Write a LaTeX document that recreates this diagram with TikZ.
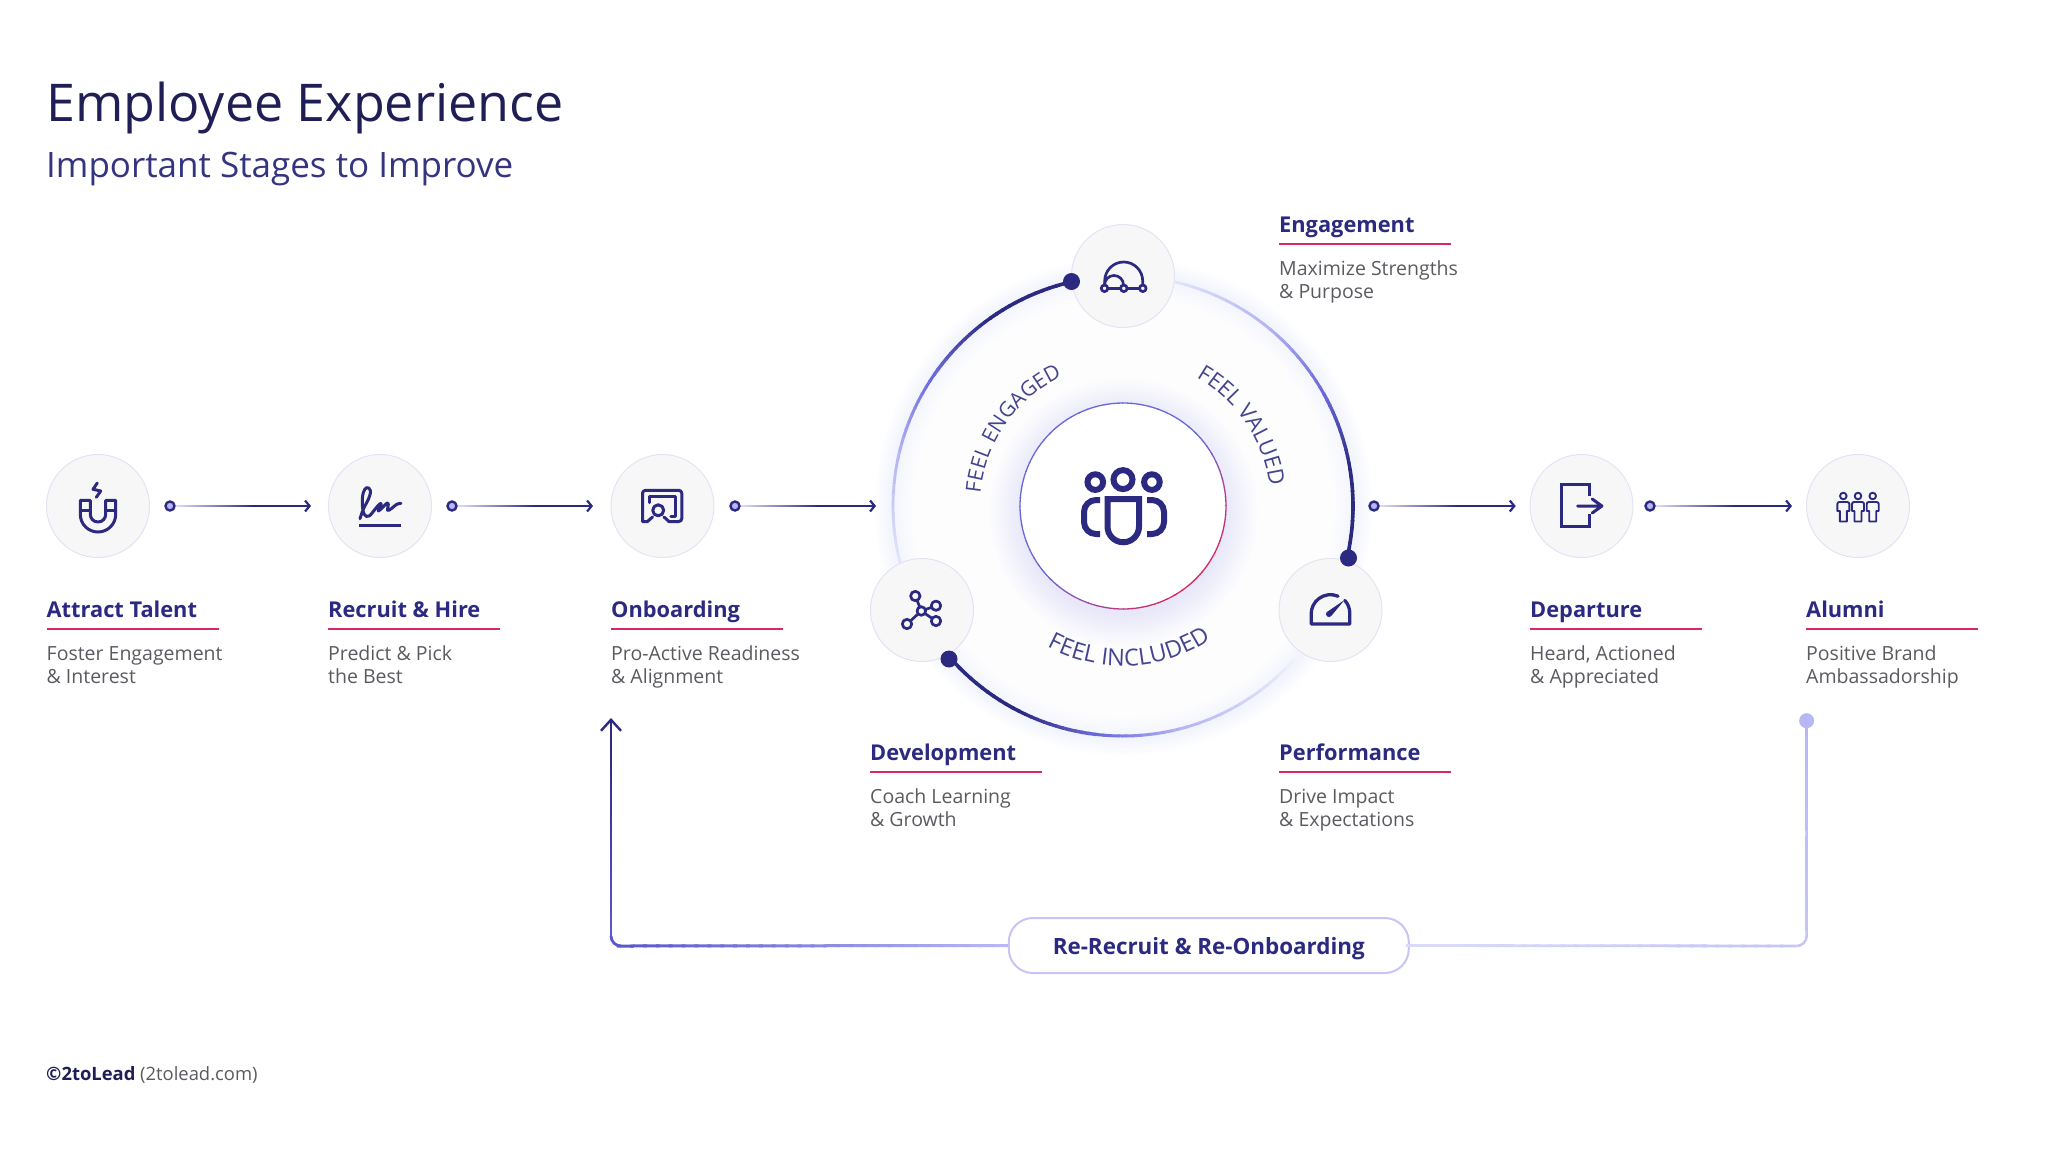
\documentclass[tikz,border=0pt]{standalone}
\usepackage{fontspec}
\setmainfont{Open Sans}
\usetikzlibrary{calc}
\usetikzlibrary{arrows.meta}
\usetikzlibrary{decorations.text}
\definecolor{navy}{HTML}{2B2A80}
\definecolor{titleink}{HTML}{201F55}
\definecolor{subink}{HTML}{35347F}
\definecolor{grayink}{HTML}{5A5A60}
\definecolor{redrule}{HTML}{D8285F}
\definecolor{arcink}{HTML}{45458F}
\definecolor{midviolet}{HTML}{6A68D8}
\definecolor{deepviolet}{HTML}{5A58CC}
\definecolor{lavender}{HTML}{B8B7F4}
\definecolor{softlav}{HTML}{C6C5F5}
\definecolor{palelav}{HTML}{DBDBF8}
\definecolor{discfill}{HTML}{FDFDFE}
\definecolor{discedge}{HTML}{F3F5FD}
\definecolor{hubglow}{HTML}{E8E8F9}
\definecolor{stagefill}{HTML}{F8F7F8}
\definecolor{stageedge}{HTML}{E3E3F5}
\pgfdeclareradialshading{discglow}{\pgfpointorigin}{color(0bp)=(discfill); color(21bp)=(discfill); color(23bp)=(discedge); color(23.4bp)=(discedge); color(25bp)=(white)}
\pgfdeclareradialshading{hubshadow}{\pgfpointorigin}{color(0bp)=(hubglow); color(19bp)=(hubglow); color(25bp)=(discfill)}
\newcommand{\gradline}[5][2]{\foreach \i in {0,...,29}{%
  \pgfmathtruncatemacro{\p}{\i*100/29}\pgfmathsetmacro{\k}{\i/30}\pgfmathsetmacro{\j}{(\i+1.3)/30}%
  \draw[line width=#1,color=#5!\p!#4] ($(#2)!\k!(#3)$) -- ($(#2)!\j!(#3)$);}}
\newcommand{\gradarc}[5][3]{\foreach \i in {0,...,11}{%
  \pgfmathtruncatemacro{\p}{\i*100/11}\pgfmathsetmacro{\aa}{#2+(#3-#2)*\i/12}\pgfmathsetmacro{\ab}{#2+(#3-#2)*(\i+1.2)/12}%
  \draw[line width=#1,color=#5!\p!#4] ([shift={(\aa:230)}]hub.center) arc (\aa:\ab:230);}}
\tikzset{
  stagecircle/.style={circle,draw=stageedge,fill=stagefill,line width=1,minimum size=103,inner sep=0},
  ringdot/.style={circle,draw=navy,fill=lavender,line width=2.4,minimum size=9,inner sep=0},
  stagetitle/.style={anchor=base west,inner sep=0,text=navy,font=\fontsize{21.8}{21.8}\selectfont\bfseries},
  stagetext/.style={anchor=base west,inner sep=0,text=grayink,font=\fontsize{19.5}{19.5}\selectfont},
  icon/.style={draw=navy,line width=3,line cap=round,line join=round},
  arclabel/.style 2 args={decorate,decoration={text along path,text align=center,text={|\fontsize{#1}{#1}\selectfont\color{arcink}|#2}}}
}
\begin{document}
\begin{tikzpicture}[x=1pt,y=1pt]
\useasboundingbox (0,0) rectangle (2048,-1152);
\node[anchor=base west,inner sep=0,text=titleink,font=\fontsize{52}{52}\selectfont] (title) at (46,-121) {Employee Experience};
\node[anchor=base west,inner sep=0,text=subink,font=\fontsize{35}{35}\selectfont] (subtitle) at (46,-177) {Important Stages to Improve};
\node[anchor=base west,inner sep=0,text=titleink,font=\fontsize{18.4}{18.4}\selectfont] (footer) at (46,-1080) {\textbf{©2toLead} \textcolor{grayink}{(2tolead.com)}};
\shade[shading=discglow] (1123,-506) circle (250);
\shade[shading=hubshadow] (1123,-512) circle (135);
\node[circle,fill=white,minimum size=206,inner sep=0] (hub) at (1123,-506) {};
\foreach \a in {0,5,...,355}{
  \pgfmathtruncatemacro{\w}{100*max(0,cos(\a+50))}
  \draw[line width=1.3,color=redrule!\w!midviolet] ([shift={(\a:103)}]hub.center) arc (\a:\a+5.5:103);
}
\foreach \st in {103,-13,221}{
  \pgfmathsetmacro{\sa}{\st+22}\pgfmathsetmacro{\sb}{\st+42}\pgfmathsetmacro{\sc}{\st+65}\pgfmathsetmacro{\sd}{\st+100}
  \gradarc[3.6]{\st}{\sa}{navy}{navy}
  \gradarc[3.4]{\sa}{\sb}{navy}{midviolet}
  \gradarc[3]{\sb}{\sc}{midviolet}{lavender}
  \gradarc[2.8]{\sc}{\sd}{lavender}{discedge}
}
\foreach \nm/\cx/\cy in {attract/98/-506,recruit/380/-506,onboard/662.5/-506,engage/1123/-276,develop/922/-610,perform/1330.5/-610,depart/1581.5/-506,alumni/1858/-506}
  \node[stagecircle] (\nm) at (\cx,\cy) {};
\foreach \nm/\lx/\by/\ttl/\subA/\subB in {attract/46.5/617/Attract Talent/Foster Engagement/\& Interest,recruit/328/617/Recruit \& Hire/Predict \& Pick/the Best,onboard/611/617/Onboarding/Pro-Active Readiness/\& Alignment,engage/1279/232/Engagement/Maximize Strengths/\& Purpose,develop/870/760/Development/Coach Learning/\& Growth,perform/1279/760/Performance/Drive Impact/\& Expectations,depart/1530/617/Departure/{Heard, Actioned}/\& Appreciated,alumni/1806/617/Alumni/Positive Brand/Ambassadorship}{
  \node[stagetitle] (t\nm) at (\lx,-\by) {\ttl};
  \node[stagetext] (s\nm) at (\lx,-\by-43) {\subA};
  \node[stagetext] (u\nm) at (\lx,-\by-66) {\subB};
  \draw[redrule,line width=2.2] (\lx,-\by-12) -- ++(172,0);
}
\foreach \rn/\rx/\tx in {1/170/311,2/452/593,3/735/876,4/1374/1515.7,5/1650/1792}{
  \node[ringdot] (r\rn) at (\rx,-506) {};
  \coordinate (a\rn) at (\tx,-506);
  \coordinate (m\rn) at ($(r\rn)!0.6!(a\rn)$);
  \gradline[2.4]{r\rn.east}{m\rn}{palelav}{navy}
  \draw[navy,line width=2.2,-{Straight Barb[length=4.5pt,width=11pt]}] (m\rn) -- (a\rn);
}
\node[circle,fill=navy,minimum size=17,inner sep=0] (dot1) at (1071.5,-281.5) {};
\node[circle,fill=navy,minimum size=17,inner sep=0] (dot2) at (1348.5,-558) {};
\node[circle,fill=navy,minimum size=17,inner sep=0] (dot3) at (949,-659) {};
\path[arclabel={21}{FEEL ENGAGED}] ([shift={(175:143)}]hub.center) arc (175:115:143);
\path[arclabel={22}{FEEL VALUED}] ([shift={(62:148)}]hub.center) arc (62:6:148);
\path[arclabel={23.5}{FEEL INCLUDED}] ([shift={(236:160)}]hub.center) arc (236:309:160);
\node[circle,fill=lavender,minimum size=15,inner sep=0] (alumnidot) at (1806.6,-720.7) {};
\node[draw=softlav,fill=white,line width=2,rounded corners=24,minimum width=400,minimum height=55,inner sep=0,text=navy,font=\fontsize{22.4}{22.4}\selectfont\bfseries] (pill) at (1208.8,-945.5) {\raisebox{-8.5pt}[0pt][0pt]{Re-Recruit \& Re-Onboarding}};
\coordinate (rv) at (1806.6,-936);
\coordinate (rh) at (1796.6,-946);
\coordinate (lh) at (621,-946);
\coordinate (lv) at (611,-936);
\coordinate (ltip) at (611,-718);
\coordinate (lm) at (611,-745);
\gradline[2.5]{alumnidot}{rv}{lavender}{softlav}
\draw[softlav,line width=2.5] (rv) arc (0:-90:10);
\gradline[2.8]{rh}{pill.east}{softlav}{palelav}
\gradline[3]{pill.west}{lh}{lavender}{deepviolet}
\draw[deepviolet,line width=2.8] (lh) arc (270:180:10);
\gradline[2.4]{lv}{lm}{deepviolet}{navy}
\draw[navy,line width=2.4,-{Straight Barb[length=11pt,width=20pt]}] (lm) -- (ltip);
\begin{scope}[shift={(attract.center)}]
  \draw[icon] (-0.7,23) -- (-5,16.7) -- (2.7,15) -- (-1.7,8.7);
  \draw[icon] (-17.7,5.7) -- (-7.7,5.7) -- (-7.7,-8.3) arc (180:360:7.7) -- (7.7,5.7) -- (17.7,5.7) -- (17.7,-8.3) arc (0:-180:17.7) -- cycle;
  \draw[icon] (-17.7,-4.3) -- (-7.7,-4.3);
  \draw[icon] (7.7,-4.3) -- (17.7,-4.3);
\end{scope}
\begin{scope}[shift={(recruit.center)}]
  \draw[icon] plot[smooth,tension=0.7] coordinates {(-20,-12.7) (-16.7,-3.3) (-11,8.3) (-9.7,15.7) (-13.3,18.3) (-16.7,13.3) (-17.7,1.7) (-15.7,-8.3) (-11,-10) (-5,-3.3) (0,2.3) (1,0.7) (-1.7,-5) (2.3,-1.7) (6.7,2.7) (8.3,1.7) (7.7,-4.3) (11.7,-2.3) (16.7,1.7) (21,2.7)};
  \draw[navy,line width=3.3] (-21,-19.3) -- (21,-19.3);
\end{scope}
\begin{scope}[shift={(onboard.center)}]
  \draw[icon] (-15,-15.5) -- (-20,-15.5) [rounded corners=3] -- (-20,15.7) -- (19.3,15.7) -- (19.3,-15.5) [sharp corners] -- (6,-15.5);
  \draw[icon] (-13.3,3.3) -- (-13.3,10) -- (12.7,10) -- (12.7,-10) -- (8.3,-10);
  \draw[icon] (-4.3,-4.3) circle (5.5);
  \draw[icon] (-15,-15.5) -- (-10,-11) (6.5,-15.5) -- (1.5,-11);
\end{scope}
\begin{scope}[shift={(engage.center)}]
  \draw[icon,line width=2.7] (-18.3,-9) -- (-18.3,-5) arc (180:0:19) -- (19.7,-9);
  \draw[icon,line width=2.7] (-18.5,-9) arc (180:0:9.5);
  \draw[icon,line width=2.7] (-15.2,-12.3) -- (-2.5,-12.3) (4.1,-12.3) -- (16.5,-12.3);
  \foreach \rx in {-18.5,0.8,19.8}
    \draw[icon,line width=2.7] (\rx,-12.3) circle (3.3);
\end{scope}
\begin{scope}[shift={(develop.center)}]
  \draw[icon,line width=2.7] (-0.7,-1) -- (-6.7,14) (-0.7,-1) -- (14,4.3) (-0.7,-1) -- (14,-11) (-0.7,-1) -- (-15,-14);
  \foreach \nx/\ny/\nr in {-0.7/-1/4.3,-6.7/14/4.7,14/4.3/4.7,14/-11/4.7,-15/-14/4.7}
    \draw[icon,line width=2.7,fill=stagefill] (\nx,\ny) circle (\nr);
\end{scope}
\begin{scope}[shift={(perform.center)}]
  \draw[icon,line width=3.3] (7.5,13.8) arc (67:180:19.3) -- (-19.3,-14) -- (19.3,-14) -- (19.3,-3.3) arc (0:42:19.3);
  \fill[navy] (14,10) -- (-4,-2.3) arc (145:320:3) -- cycle;
\end{scope}
\begin{scope}[shift={(depart.center)}]
  \draw[navy,line width=3] (7.8,10) -- (7.8,21.5) -- (-20.5,21.5) -- (-20.5,-20.7) -- (7.8,-20.7) -- (7.8,-8.3);
  \draw[icon] (-4,0) -- (20.4,0) (10.7,7) -- (20.4,0) -- (10.7,-7);
\end{scope}
\begin{scope}[shift={(alumni.center)}]
  \foreach \px in {-14.7,0,14.7}{
    \draw[icon,line width=1.9] (\px,10) circle (3.3);
    \draw[icon,line width=1.9] (\px-3.5,-15.5) -- (\px-3.5,-5) -- (\px-6,-5) [rounded corners=2] -- (\px-6,4) -- (\px+6,4) [sharp corners] -- (\px+6,-5) -- (\px+3.5,-5) -- (\px+3.5,-15.5) -- cycle;
  }
\end{scope}
\begin{scope}[shift={(hub.center)}]
  \draw[navy,line width=6] (-27.7,23.9) circle (7.8) (0,26.4) circle (9.5) (28.9,23.9) circle (7.8);
  \draw[navy,line width=6] (-15.5,7) -- (16,7) -- (16,-20.5) arc (0:-180:15.75) -- cycle;
  \draw[navy,line width=6,rounded corners=12] (-23,6) -- (-39,6) -- (-39,-28) -- (-23,-28);
  \draw[navy,line width=6,rounded corners=12] (24,6) -- (41,6) -- (41,-28) -- (24,-28);
\end{scope}
\end{tikzpicture}
\end{document}
